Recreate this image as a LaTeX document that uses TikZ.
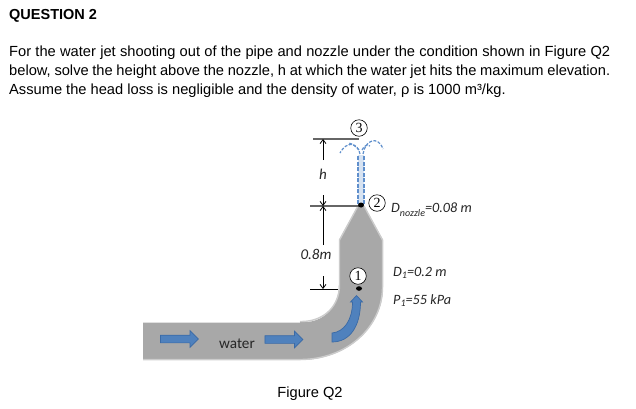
\documentclass[tikz,border=0pt]{standalone}
\usepackage{fontspec}
\setmainfont{Liberation Sans}
\newfontfamily\calib{Carlito}
\newfontfamily\serifnum{Liberation Serif}
\usetikzlibrary{arrows.meta,shapes.arrows,shapes.geometric}
\definecolor{pipegray}{HTML}{A8A8A8}
\definecolor{arrowblue}{HTML}{4F81BD}
\definecolor{arrowedge}{HTML}{3A6AA6}
\definecolor{jetblue}{HTML}{5F8FCC}
\tikzset{
  para/.style={anchor=base west,inner sep=0pt,font=\fontsize{14.66}{16}\selectfont,text=black},
  lab/.style={anchor=base,inner sep=0pt,font=\calib\itshape\fontsize{14.2}{16}\selectfont,text=black!85},
  biglab/.style={lab,font=\calib\itshape\fontsize{15}{16}\selectfont},
  dim/.style={draw=black,line width=0.8pt,-{Straight Barb[length=4pt,width=6pt]}},
  refline/.style={draw=black!60,line width=1.3pt},
  num/.style={circle,draw=black,line width=0.6pt,fill=white,minimum size=16.5pt,inner sep=0pt,font=\serifnum\fontsize{14}{14}\selectfont},
  spot/.style={ellipse,fill=black,inner sep=0pt},
  blockarrow/.style={single arrow,fill=arrowblue,draw=arrowedge,line width=0.7pt,inner sep=3.5pt,minimum height=38pt,single arrow head extend=4.5pt,single arrow tip angle=90,text width=0pt,text height=0pt,text depth=0pt},
  jet/.style={draw=jetblue,line width=1.3pt,dash pattern=on 4pt off 1.5pt},
  spray/.style={draw=jetblue,line width=1.2pt,dash pattern=on 3pt off 1.5pt},
  rim/.style={draw=black!20,line width=1.4pt},
}
\newcommand{\subsc}[2]{\raisebox{#1}{\fontsize{10}{10}\selectfont #2}}
\begin{document}
\begin{tikzpicture}[x=1pt,y=-1pt]
\useasboundingbox (0,0) rectangle (636,408);
\fill[white] (0,0) rectangle (636,408);
% text
\node[para,font=\bfseries\fontsize{14.5}{16}\selectfont] (title) at (9,19) {QUESTION 2};
\node[para] (l1) at (9,56) {\makebox[601pt][s]{For the water jet shooting out of the pipe and nozzle under the condition shown in Figure Q2}};
\node[para] (l2) at (9,75) {\makebox[601pt][s]{below, solve the height above the nozzle, h at which the water jet hits the maximum elevation.}};
\node[para] (l3) at (9,94) {Assume the head loss is negligible and the density of water, ρ is 1000 m³/kg.};
% jet
\fill[jetblue!25] (358,155) rectangle (364,204);
\draw[jet] (358,204) -- (358,155);
\draw[jet] (364,204) -- (364,155);
\draw[spray] (360,154) .. controls (358,143) and (347,140) .. (340,153);
\draw[spray] (359,150) .. controls (356,146) and (352,144) .. (349,143);
\draw[spray] (363,154) .. controls (365,140) and (378,135) .. (383,149);
\draw[spray] (362,150) .. controls (364,146) and (367,144) .. (370,146);
% pipe
\fill[pipegray] (143,322) -- (305,322)
  .. controls (325,322) and (339,305) .. (339,285) -- (339,240) -- (358,206) -- (364,206) -- (383,240) -- (383,287)
  .. controls (383,327) and (347,360) .. (300,360) -- (143,360) -- cycle;
\draw[rim] (300,321.5) .. controls (325,322) and (339.5,305) .. (339.5,285) -- (339.5,240) -- (358,206);
\draw[rim] (364,206) -- (382.5,240) -- (382.5,287) .. controls (382.5,327) and (347,359.5) .. (300,359.5) -- (143,359.5);
\draw[draw=black!12,line width=0.5pt] (143,322) -- (300,322);
% dimension lines
\coordinate (t1) at (313,139); \coordinate (t2) at (359,139);
\coordinate (m1) at (310,206); \coordinate (m2) at (360,206);
\coordinate (b1) at (310,289); \coordinate (b2) at (338,289);
\draw[refline] (t1) -- (t2);
\draw[refline] (m1) -- (m2);
\draw[draw=black,line width=0.8pt] (b1) -- (b2);
\node[biglab] (h) at (323,179) {h};
\node[biglab] (dist) at (316,259) {0.8m};
\coordinate (a1) at (323,160); \coordinate (a1t) at (323,139);
\coordinate (a2) at (323,195); \coordinate (a2t) at (323,206);
\coordinate (a3) at (323,245); \coordinate (a3t) at (323,206);
\coordinate (a4) at (323,276); \coordinate (a4t) at (323,289);
\draw[dim] (a1) -- (a1t);
\draw[dim] (a2) -- (a2t);
\draw[dim] (a3) -- (a3t);
\draw[dim] (a4) -- (a4t);
% points
\node[spot,minimum width=6pt,minimum height=5pt] (p2) at (361,205) {};
\node[spot,minimum width=6pt,minimum height=4.5pt] (p1) at (359,288.5) {};
\node[num] (n3) at (359,128) {3};
\node[num] (n2) at (377,203) {2};
\node[num] (n1) at (358,276) {1};
% labels
\node[lab,anchor=base west] (dn) at (391,212) {D\subsc{-4pt}{nozzle}=0.08 m};
\node[lab,anchor=base west] (d1) at (393,276) {D\subsc{-2pt}{1}=0.2 m};
\node[lab,anchor=base west] (pp) at (393,304) {P\subsc{-2pt}{1}=55 kPa};
\node[anchor=base,inner sep=0pt,font=\calib\fontsize{15.2}{16}\selectfont,text=black!85] (water) at (237,348) {water};
\node[anchor=base,inner sep=0pt,font=\fontsize{14.66}{16}\selectfont] (fig) at (310,397) {Figure Q2};
% flow arrows
\node[blockarrow] (f1) at (177.5,339) {};
\node[blockarrow] (f2) at (282,339.5) {};
\fill[arrowblue,draw=arrowedge,line width=0.7pt] (332,342) -- (332,333)
  .. controls (344,332) and (352.5,320) .. (352.5,302) -- (350.5,302) -- (356.5,295.5) -- (362.5,302) -- (360.5,302)
  .. controls (360.5,326) and (350,342) .. (332,342) -- cycle;
\end{tikzpicture}
\end{document}
